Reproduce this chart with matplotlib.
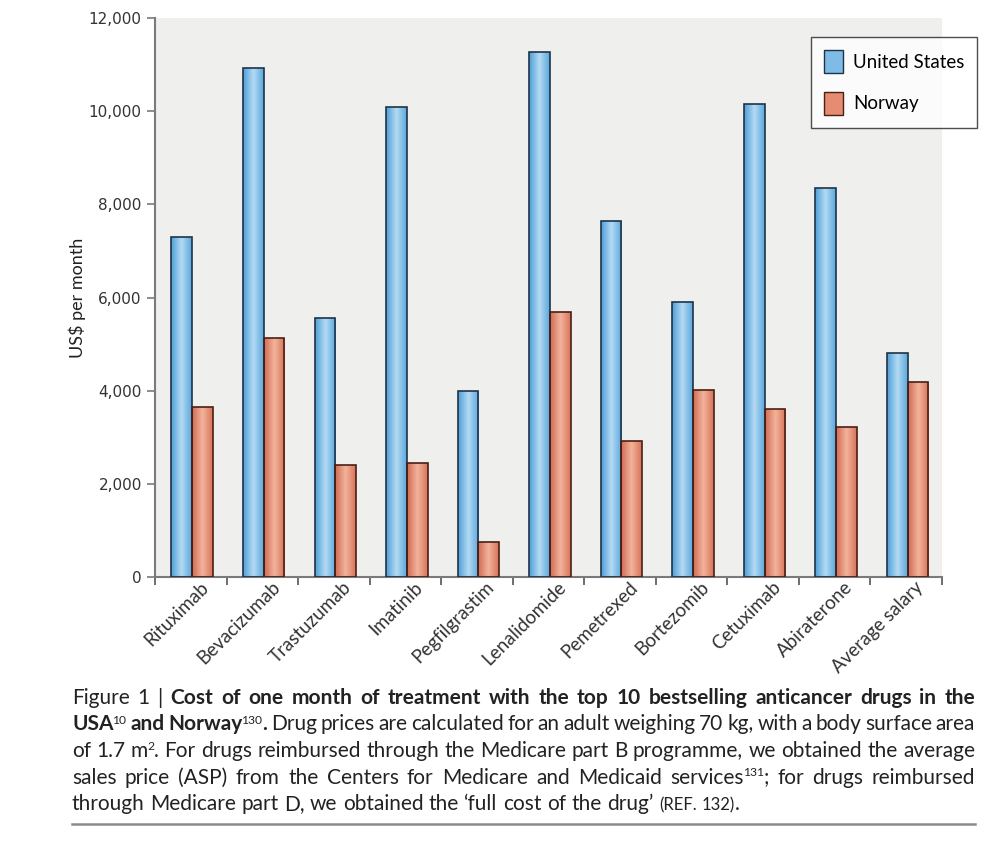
import numpy as np
import matplotlib.pyplot as plt
from matplotlib.colors import LinearSegmentedColormap
from matplotlib.patches import Patch

# monthly cost in US$
drugs = ["Rituximab", "Bevacizumab", "Trastuzumab", "Imatinib", "Pegfilgrastim",
         "Lenalidomide", "Pemetrexed", "Bortezomib", "Cetuximab", "Abiraterone",
         "Average salary"]
usa = [7300, 10930, 5560, 10080, 4000, 11260, 7650, 5900, 10150, 8340, 4810]
norway = [3660, 5140, 2400, 2450, 760, 5690, 2930, 4020, 3610, 3220, 4190]
yticks = [0, 2000, 4000, 6000, 8000, 10000, 12000]

W, H = 1004, 844
fig = plt.figure(figsize=(W / 100, H / 100), dpi=100)
ax = fig.add_axes([155 / W, 1 - 577 / H, (942 - 155) / W, (577 - 18) / H])
ax.set_facecolor("#efefed")

blue_cm = LinearSegmentedColormap.from_list("b", ["#4f9fd8", "#b4daf3", "#5aa8de"])
red_cm = LinearSegmentedColormap.from_list("r", ["#d26a52", "#f2b49c", "#d87459"])
grad = np.linspace(0, 1, 64).reshape(1, -1)

x = np.arange(len(drugs))
bw = 0.29
us_bars = ax.bar(x - bw / 2 + 0.02, usa, bw, color="none", edgecolor="#1f3347", lw=1.2, zorder=3)
no_bars = ax.bar(x + bw / 2 + 0.02, norway, bw, color="none", edgecolor="#4a1f16", lw=1.2, zorder=3)

# gradient fill clipped to each bar
for bars, cm in [(us_bars, blue_cm), (no_bars, red_cm)]:
    for b in bars:
        x0, y0 = b.get_x(), b.get_y()
        im = ax.imshow(grad, cmap=cm, aspect="auto", zorder=2,
                       extent=[x0, x0 + b.get_width(), y0, y0 + b.get_height()])
        im.set_clip_path(b)

ax.set_xlim(-0.5, len(drugs) - 0.5)
ax.set_ylim(0, 12000)

for s in ["top", "right"]:
    ax.spines[s].set_visible(False)
for s in ["left", "bottom"]:
    ax.spines[s].set_color("#7a7a7a")
    ax.spines[s].set_linewidth(1.5)

ax.set_yticks(yticks)
ax.set_yticklabels([f"{v:,}" for v in yticks])
ax.tick_params(axis="y", direction="out", length=6, width=1.2, color="#7a7a7a",
               labelsize=11, labelcolor="#333333")

ax.set_xticks(np.arange(len(drugs) + 1) - 0.5)
ax.set_xticklabels([])
ax.tick_params(axis="x", which="major", direction="out", length=6, width=1.2, color="#555555")
ax.set_xticks(x + 0.12, minor=True)
ax.set_xticklabels(drugs, minor=True, rotation=45, ha="right", va="top",
                   rotation_mode="anchor", fontsize=13.5, family="Lato", color="#333333")
ax.tick_params(axis="x", which="minor", length=0, pad=1)

ax.set_ylabel("US$ per month", fontsize=13, family="Lato", color="#222222", labelpad=2)

handles = [Patch(facecolor="#7ebbe6", edgecolor="#1f3347", label="United States"),
           Patch(facecolor="#e58c72", edgecolor="#4a1f16", label="Norway")]
leg = ax.legend(handles=handles, loc="upper right", bbox_to_anchor=(1.057, 0.983),
                prop={"family": "Lato", "size": 13.5}, frameon=True, fancybox=False,
                handlelength=1.0, handleheight=1.5, labelspacing=1.0,
                borderpad=0.7, handletextpad=0.55)
leg.get_frame().set_edgecolor("#222222")
leg.get_frame().set_linewidth(1.0)
leg.get_frame().set_facecolor("white")

# caption, justified word by word
caption = [
    [("Figure 1 | ", "n"), ("Cost of one month of treatment with the top 10 bestselling anticancer drugs in the", "b")],
    [("USA", "b"), ("10", "sn"), (" and Norway", "b"), ("130", "sn"), (". ", "b"),
     ("Drug prices are calculated for an adult weighing 70 kg, with a body surface area", "n")],
    [("of 1.7 m", "n"), ("2", "sn"), (". For drugs reimbursed through the Medicare part B programme, we obtained the average", "n")],
    [("sales price (ASP) from the Centers for Medicare and Medicaid services", "n"), ("131", "sn"),
     ("; for drugs reimbursed", "n")],
    [("through Medicare part D, we obtained the \u2018full cost of the drug\u2019 ", "n"), ("(REF. 132)", "r"), (".", "n")],
]
fs = 15
left, right = 72, 975
baselines = [704, 730.5, 757, 783.5, 810]
renderer = fig.canvas.get_renderer()


def style(kind):
    if kind == "b":
        return dict(fontsize=fs, weight="bold", dy=0)
    if kind == "sn":
        return dict(fontsize=fs * 0.58, weight="normal", dy=7)
    if kind == "r":
        return dict(fontsize=fs * 0.8, weight="normal", dy=0)
    return dict(fontsize=fs, weight="normal", dy=0)


def text_width(s, **kw):
    t = fig.text(0, 0, s, family="Lato", **kw)
    w = t.get_window_extent(renderer).width
    t.remove()
    return w


space = text_width("a a", fontsize=fs) - text_width("aa", fontsize=fs)

for li, runs in enumerate(caption):
    words = []
    new_word = True
    for txt, kind in runs:
        for i, p in enumerate(txt.split(" ")):
            if i > 0:
                new_word = True
            if p == "":
                continue
            if new_word or not words:
                words.append([])
            words[-1].append((p, kind))
            new_word = False
    placed = []
    widths = []
    for w in words:
        pieces = []
        tot = 0
        for p, kind in w:
            st = style(kind)
            t = fig.text(0, 0, p, fontsize=st["fontsize"], weight=st["weight"],
                         family="Lato", color="#222222", va="baseline")
            wpx = t.get_window_extent(renderer).width
            if kind == "sn":
                tot -= 1
            pieces.append((t, tot, st["dy"]))
            tot += wpx
        placed.append(pieces)
        widths.append(tot)
    if li < len(caption) - 1:
        gap = (right - left - sum(widths)) / (len(words) - 1)
    else:
        gap = space
    xpos = left
    y = baselines[li]
    for pieces, wsum in zip(placed, widths):
        for t, off, dy in pieces:
            t.set_position(((xpos + off) / W, 1 - (y - dy) / H))
        xpos += wsum + gap

fig.add_artist(plt.Line2D([left / W, right / W], [1 - 824 / H, 1 - 824 / H],
                          color="#8a8a8a", lw=1.8, transform=fig.transFigure))

fig.savefig("out.png", dpi=100, facecolor="white")
